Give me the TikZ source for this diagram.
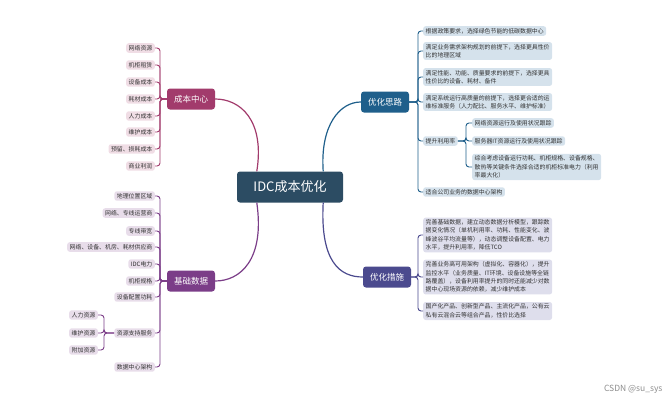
\documentclass[tikz,border=0pt]{standalone}
\usepackage{fontspec}
\setmainfont{Noto Sans CJK SC}
\begin{document}
\begin{tikzpicture}[x=1pt,y=-1pt,
  leaf/.style={rounded corners=2.5pt,inner xsep=2.5pt,inner ysep=2pt,font=\fontsize{5.9}{8.4}\selectfont,align=left,text=black!80},
  main/.style={rounded corners=3pt,text=white,font=\fontsize{8.5}{10}\selectfont,minimum width=48pt,minimum height=21pt},
  pk/.style={leaf,fill=pinkf},
  pu/.style={leaf,fill=purf},
  bl/.style={leaf,fill=bluef},
  indleaf/.style={leaf,fill=indf},
  lnk/.style={line width=0.9pt,rounded corners=3pt}]
\definecolor{pinkf}{HTML}{F0DDE5}\definecolor{purf}{HTML}{E8DDEA}
\definecolor{bluef}{HTML}{D5E2EC}\definecolor{indf}{HTML}{DEDEEC}
\definecolor{cpink}{HTML}{A23B6C}\definecolor{cpur}{HTML}{7B3D88}
\definecolor{cblue}{HTML}{1F5F8B}\definecolor{cind}{HTML}{4B4A8E}
\definecolor{ccen}{HTML}{2C4C63}
\useasboundingbox (0,0) rectangle (670,405);
\node[rounded corners=3pt,fill=ccen,text=white,font=\fontsize{13}{15}\selectfont,minimum width=106pt,minimum height=31pt] (c) at (290,187) {IDC成本优化};
\node[main,fill=cpink] (cb) at (191,99) {成本中心};
\node[main,fill=cpur] (jc) at (191,281) {基础数据};
\node[main,fill=cblue] (sl) at (385,102) {优化思路};
\node[main,fill=cind] (cs) at (387,277) {优化措施};
\draw[cpink,line width=1.2pt] (c.north west)++(20,0) .. controls (265,120) and (240,99) .. (cb.east);
\draw[cpur,line width=1.2pt] (c.south west)++(20,0) .. controls (265,260) and (240,281) .. (jc.east);
\draw[cblue,line width=1.2pt] (c.north east)++(-20,0) .. controls (320,125) and (340,102) .. (sl.west);
\draw[cind,line width=1.2pt] (c.south east)++(-20,0) .. controls (320,262) and (340,277) .. (cs.west);
% cost centre
\foreach \t/\y [count=\i] in {网络资源/48,机柜租赁/65,设备成本/82,耗材成本/99,人力成本/116,维护成本/132,{预留、损耗成本}/149,商业利润/166}{
  \node[pk,anchor=east] (p\i) at (155,\y) {\t};
  \draw[lnk,cpink] (cb.west) -- (160,99) |- (p\i.east);}
% base data
\foreach \t/\y [count=\i] in {地理位置区域/196,{网络、专线运营商}/213,专线带宽/231,{网络、设备、机房、耗材供应商}/247,IDC电力/264,机柜规格/281,设备配置功耗/297,资源支持服务/333,数据中心架构/367}{
  \node[pu,anchor=east] (b\i) at (155,\y) {\t};
  \draw[lnk,cpur] (jc.west) -- (160,281) |- (b\i.east);}
\foreach \t/\y [count=\i] in {人力资源/315,维护资源/333,附加资源/350}{
  \node[pu,anchor=east] (r\i) at (98,\y) {\t};
  \draw[lnk,cpur] (b8.west) -- (104,333) |- (r\i.east);}
% ideas
\node[bl,anchor=west] (s1) at (423,31) {根据政策要求，选择绿色节能的低碳数据中心};
\node[bl,anchor=west] (s2) at (423,51) {满足业务需求架构规划的前提下，选择更具性价\\比的地理区域};
\node[bl,anchor=west] (s3) at (423,77) {满足性能、功能、质量要求的前提下，选择更具\\性价比的设备、耗材、备件};
\node[bl,anchor=west] (s4) at (423,102) {满足系统运行高质量的前提下，选择更合适的运\\维标准服务（人力配比、服务水平、维护标准）};
\node[bl,anchor=west] (s5) at (423,141) {提升利用率};
\node[bl,anchor=west] (s6) at (423,192) {适合公司业务的数据中心架构};
\foreach \i in {1,...,6}{\draw[lnk,cblue] (sl.east) -- (418,102) |- (s\i.west);}
\node[bl,anchor=west] (u1) at (472,123) {网络资源运行及使用状况跟踪};
\node[bl,anchor=west] (u2) at (472,141) {服务器IT资源运行及使用状况跟踪};
\node[bl,anchor=west] (u3) at (472,167) {综合考虑设备运行功耗、机柜规格、设备规格、\\散热等关键条件选择合适的机柜标准电力（利用\\率最大化）};
\foreach \i in {1,2,3}{\draw[lnk,cblue] (s5.east) -- (466,141) |- (u\i.west);}
% measures
\node[indleaf,anchor=west] (m1) at (423,235) {完善基础数据，建立动态数据分析模型，跟踪数\\据变化情况（单机利用率、功耗、性能变化、波\\峰波谷平均流量等），动态调整设备配置、电力\\水平，提升利用率，降低TCO};
\node[indleaf,anchor=west] (m2) at (423,277) {完善业务高可用架构（虚拟化、容器化），提升\\监控水平（业务质量、IT环境、设备设施等全链\\路覆盖），设备利用率提升的同时还能减少对数\\据中心现场资源的依赖，减少维护成本};
\node[indleaf,anchor=west] (m3) at (423,311) {国产化产品、创新型产品、主流化产品，公有云\\私有云混合云等组合产品，性价比选择};
\foreach \i in {1,2,3}{\draw[lnk,cind] (cs.east) -- (418,277) |- (m\i.west);}
\node[text=black!45,font=\fontsize{8.5}{10}\selectfont,anchor=east] (wm) at (666,389) {CSDN @su\_sys};
\end{tikzpicture}
\end{document}
